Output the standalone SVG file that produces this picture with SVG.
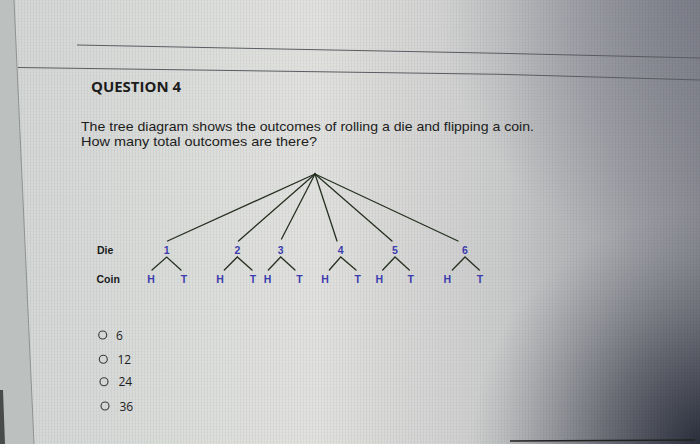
<svg xmlns="http://www.w3.org/2000/svg" width="700" height="444" viewBox="0 0 700 444">
<defs>
<linearGradient id="bg" x1="0" y1="0" x2="1" y2="0">
<stop offset="0" stop-color="#d3d6d5"/>
<stop offset="0.45" stop-color="#e1e2df"/>
<stop offset="0.72" stop-color="#cacbcb"/>
<stop offset="1" stop-color="#8c8d95"/>
</linearGradient>
<radialGradient id="dark" cx="710" cy="450" r="240" gradientUnits="userSpaceOnUse">
<stop offset="0" stop-color="#1e2230" stop-opacity="0.95"/>
<stop offset="0.45" stop-color="#3a3e4a" stop-opacity="0.55"/>
<stop offset="1" stop-color="#6a6e78" stop-opacity="0"/>
</radialGradient>
<radialGradient id="topdark" cx="700" cy="0" r="260" gradientUnits="userSpaceOnUse">
<stop offset="0" stop-color="#707280" stop-opacity="0.6"/>
<stop offset="1" stop-color="#707280" stop-opacity="0"/>
</radialGradient>
<pattern id="moire" width="3" height="3" patternUnits="userSpaceOnUse">
<rect x="0" y="0" width="1" height="3" fill="#000" opacity="0.035"/>
<rect x="0" y="0" width="3" height="1" fill="#000" opacity="0.02"/>
</pattern>
<style>
.txt{font-family:"Open Sans","Liberation Sans",sans-serif;fill:#1c1c1c}
.body{font-family:"Liberation Sans",Arial,sans-serif;fill:#1c1c1c}
.lvl{font-family:"Liberation Sans",Arial,sans-serif;font-weight:bold;font-size:10.5px;fill:#1a1a1a}
.lab{font-family:"Liberation Sans",Arial,sans-serif;font-weight:bold;font-size:10.5px;fill:#3b3cae;text-anchor:middle}
.edge{stroke:#263020;stroke-width:1.3;fill:none;stroke-linecap:round}
.radio{fill:none;stroke:#3a3a3a;stroke-width:1.1}
.rule{stroke:#5a5c62;stroke-width:1;fill:none}
</style>
</defs>
<rect width="700" height="444" fill="url(#bg)"/>
<rect width="700" height="444" fill="url(#topdark)"/>
<rect width="700" height="444" fill="url(#dark)"/>
<rect width="700" height="444" fill="url(#moire)"/>
<polygon points="0,0 14,0 34,444 0,444" fill="#bcc0bf"/>
<line x1="14" y1="0" x2="34" y2="444" stroke="#8e9292" stroke-width="1"/>
<polygon points="0,390 3,390 5,444 0,444" fill="#4a4c4c"/>
<path class="rule" d="M77,45 L500,53.3 L700,58"/>
<path class="rule" d="M18,67.5 L500,74.3 L700,80"/>
<line x1="510" y1="441" x2="695" y2="440" stroke="#222" stroke-width="1.5"/>

<g id="question">
<text class="txt" x="91" y="91.5" font-size="15" font-weight="bold" textLength="90" lengthAdjust="spacingAndGlyphs">QUESTION 4</text>
<text class="body" x="81" y="131" font-size="12.8" textLength="453" lengthAdjust="spacingAndGlyphs">The tree diagram shows the outcomes of rolling a die and flipping a coin.</text>
<text class="body" x="81" y="146" font-size="12.8" textLength="236" lengthAdjust="spacingAndGlyphs">How many total outcomes are there?</text>
</g>

<g id="connectors">
<line class="edge" x1="315" y1="174" x2="167.5" y2="241"/>
<line class="edge" x1="315" y1="174" x2="238.5" y2="241"/>
<line class="edge" x1="315" y1="174" x2="281.5" y2="239"/>
<line class="edge" x1="315" y1="174" x2="337" y2="241"/>
<line class="edge" x1="315" y1="174" x2="392" y2="241"/>
<line class="edge" x1="315" y1="174" x2="458" y2="241"/>
<polyline class="edge" points="152,270 166.7,257 181,270"/>
<polyline class="edge" points="224.3,270 237.3,257 252,270"/>
<polyline class="edge" points="268.3,270 280.7,257 295,270"/>
<polyline class="edge" points="329.3,270 340.7,257 356,270"/>
<polyline class="edge" points="382.7,270 395,257 409.3,270"/>
<polyline class="edge" points="452.3,270 465,257 479.3,270"/>
</g>

<g id="root"><circle cx="315" cy="174" r="1.2" fill="#263020"/></g>
<g id="level-labels">
<text class="lvl" x="97" y="254">Die</text>
<text class="lvl" x="96.5" y="282.5">Coin</text>
</g>
<g id="die-1"><text class="lab" x="166.7" y="254">1</text></g>
<g id="die-2"><text class="lab" x="237.3" y="254">2</text></g>
<g id="die-3"><text class="lab" x="280.7" y="254">3</text></g>
<g id="die-4"><text class="lab" x="340.7" y="254">4</text></g>
<g id="die-5"><text class="lab" x="395" y="254">5</text></g>
<g id="die-6"><text class="lab" x="465" y="254">6</text></g>
<g id="coin-1H"><text class="lab" x="151" y="283">H</text></g>
<g id="coin-1T"><text class="lab" x="184" y="283">T</text></g>
<g id="coin-2H"><text class="lab" x="220" y="283">H</text></g>
<g id="coin-2T"><text class="lab" x="253" y="283">T</text></g>
<g id="coin-3H"><text class="lab" x="267.5" y="283">H</text></g>
<g id="coin-3T"><text class="lab" x="299.5" y="283">T</text></g>
<g id="coin-4H"><text class="lab" x="325" y="283">H</text></g>
<g id="coin-4T"><text class="lab" x="357.7" y="283">T</text></g>
<g id="coin-5H"><text class="lab" x="379.3" y="283">H</text></g>
<g id="coin-5T"><text class="lab" x="410.7" y="283">T</text></g>
<g id="coin-6H"><text class="lab" x="447.3" y="283">H</text></g>
<g id="coin-6T"><text class="lab" x="480" y="283">T</text></g>

<g id="options">
<circle class="radio" cx="102.7" cy="335" r="4"/>
<text class="txt" x="116" y="339.5" font-size="12">6</text>
<circle class="radio" cx="103.3" cy="359.3" r="4"/>
<text class="txt" x="117.5" y="363.8" font-size="12">12</text>
<circle class="radio" cx="104" cy="381.7" r="4"/>
<text class="txt" x="118.5" y="386.2" font-size="12">24</text>
<circle class="radio" cx="105" cy="406" r="4"/>
<text class="txt" x="119.5" y="410.5" font-size="12">36</text>
</g>
</svg>
